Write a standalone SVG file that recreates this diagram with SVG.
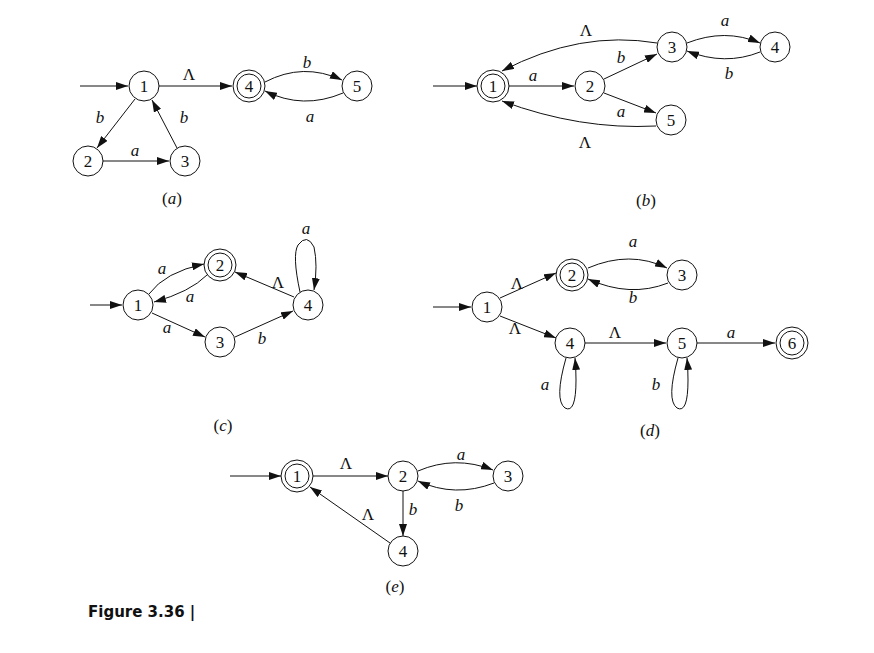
<svg xmlns="http://www.w3.org/2000/svg" width="874" height="653" viewBox="0 0 874 653">
<defs>
<marker id="ar" viewBox="0 0 12 8" refX="12" refY="4" markerWidth="12" markerHeight="8" markerUnits="userSpaceOnUse" orient="auto"><path d="M0,0 L12,4 L0,8 Z" fill="#111"/></marker>
</defs>
<style>
.n circle{fill:#fff;stroke:#111;stroke-width:1}
.n text,.t{font-family:"Liberation Serif",serif;font-size:17px;fill:#111;text-anchor:middle}
.l{font-family:"Liberation Serif",serif;font-size:17px;font-style:italic;fill:#111;text-anchor:middle}
.e path{fill:none;stroke:#111;stroke-width:1;marker-end:url(#ar)}
</style>
<rect width="874" height="653" fill="#fff"/>
<!-- (a) -->
<g class="e">
<path d="M80,86 H128"/><path d="M159,86 H232"/><path d="M265,82 Q303,62 342,80"/><path d="M343,93 Q303,110 265,91"/>
<path d="M135,99 L97,148"/><path d="M103,161 H169"/><path d="M177,148 L152,100"/>
</g>
<g class="n" id="a1"><circle cx="144" cy="86" r="15"/><text x="144" y="92">1</text></g>
<g class="n" id="a2"><circle cx="88" cy="161" r="15"/><text x="88" y="167">2</text></g>
<g class="n" id="a3"><circle cx="185" cy="161" r="15"/><text x="185" y="167">3</text></g>
<g class="n" id="a4"><circle cx="249" cy="86" r="16"/><circle cx="249" cy="86" r="12"/><text x="249" y="92">4</text></g>
<g class="n" id="a5"><circle cx="357" cy="86" r="15"/><text x="357" y="92">5</text></g>
<text class="t" x="189" y="80">Λ</text><text class="l" x="307" y="68">b</text><text class="l" x="310" y="122">a</text>
<text class="l" x="100" y="123">b</text><text class="l" x="184" y="123">b</text><text class="l" x="135" y="156">a</text>
<text class="t" x="172" y="204">(<tspan font-style="italic">a</tspan>)</text>
<!-- (b) -->
<g class="e">
<path d="M433,86 H477"/><path d="M509,86 H574"/><path d="M604,79 L657,54"/><path d="M604,93 L656,113"/>
<path d="M657,43 Q580,30 502,71"/><path d="M656,126 Q580,130 502,101"/>
<path d="M687,43 Q725,28 760,43"/><path d="M760,52 Q725,66 687,51"/>
</g>
<g class="n" id="b1"><circle cx="493" cy="86" r="16"/><circle cx="493" cy="86" r="12"/><text x="493" y="92">1</text></g>
<g class="n" id="b2"><circle cx="590" cy="86" r="15"/><text x="590" y="92">2</text></g>
<g class="n" id="b3"><circle cx="672" cy="47" r="15"/><text x="672" y="53">3</text></g>
<g class="n" id="b4"><circle cx="775" cy="47" r="15"/><text x="775" y="53">4</text></g>
<g class="n" id="b5"><circle cx="671" cy="120" r="15"/><text x="671" y="126">5</text></g>
<text class="t" x="586" y="36">Λ</text><text class="l" x="533" y="81">a</text><text class="l" x="621" y="63">b</text><text class="l" x="621" y="117">a</text>
<text class="t" x="585" y="148">Λ</text><text class="l" x="725" y="26">a</text><text class="l" x="729" y="79">b</text>
<text class="t" x="646" y="206">(<tspan font-style="italic">b</tspan>)</text>
<!-- (c) -->
<g class="e">
<path d="M90,305 H122"/><path d="M149,294 Q165,272 204,264"/><path d="M207,275 Q190,292 154,302"/>
<path d="M152,313 L205,337"/><path d="M235,337 L293,311"/><path d="M294,297 L235,272"/>
<path d="M300,292 Q292,255 298,245 Q307,233 314,247 Q318,265 314,290"/>
</g>
<g class="n" id="c1"><circle cx="138" cy="305" r="15"/><text x="138" y="311">1</text></g>
<g class="n" id="c2"><circle cx="220" cy="265" r="16"/><circle cx="220" cy="265" r="12"/><text x="220" y="271">2</text></g>
<g class="n" id="c3"><circle cx="220" cy="342" r="15"/><text x="220" y="348">3</text></g>
<g class="n" id="c4"><circle cx="308" cy="305" r="15"/><text x="308" y="311">4</text></g>
<text class="l" x="162" y="274">a</text><text class="l" x="190" y="302">a</text><text class="l" x="167" y="333">a</text><text class="l" x="262" y="344">b</text>
<text class="t" x="278" y="288">Λ</text><text class="l" x="306" y="234">a</text>
<text class="t" x="223" y="431">(<tspan font-style="italic">c</tspan>)</text>
<!-- (d) -->
<g class="e">
<path d="M433,307 H471"/><path d="M500,298 L556,273"/><path d="M500,316 L556,338"/>
<path d="M588,268 Q630,250 667,268"/><path d="M668,283 Q630,298 588,279"/>
<path d="M585,343 H666"/><path d="M697,343 H775"/>
<path d="M566,358 Q554,400 565,408 Q576,414 576,380 Q576,368 575,358"/>
<path d="M678,358 Q666,400 677,408 Q688,414 688,380 Q688,368 687,358"/>
</g>
<g class="n" id="d1"><circle cx="487" cy="307" r="15"/><text x="487" y="313">1</text></g>
<g class="n" id="d2"><circle cx="572" cy="275" r="16"/><circle cx="572" cy="275" r="12"/><text x="572" y="281">2</text></g>
<g class="n" id="d3"><circle cx="682" cy="275" r="15"/><text x="682" y="281">3</text></g>
<g class="n" id="d4"><circle cx="570" cy="343" r="15"/><text x="570" y="349">4</text></g>
<g class="n" id="d5"><circle cx="682" cy="343" r="15"/><text x="682" y="349">5</text></g>
<g class="n" id="d6"><circle cx="792" cy="343" r="16"/><circle cx="792" cy="343" r="12"/><text x="792" y="349">6</text></g>
<text class="t" x="517" y="289">Λ</text><text class="t" x="515" y="334">Λ</text><text class="l" x="633" y="247">a</text><text class="l" x="633" y="303">b</text>
<text class="t" x="615" y="338">Λ</text><text class="l" x="731" y="338">a</text><text class="l" x="545" y="390">a</text><text class="l" x="656" y="390">b</text>
<text class="t" x="650" y="436">(<tspan font-style="italic">d</tspan>)</text>
<!-- (e) -->
<g class="e">
<path d="M230,476 H281"/><path d="M313,476 H388"/><path d="M418,471 Q455,455 493,470"/><path d="M494,483 Q455,498 418,481"/>
<path d="M403,491 V536"/><path d="M390,543 L310,487"/>
</g>
<g class="n" id="e1"><circle cx="297" cy="476" r="16"/><circle cx="297" cy="476" r="12"/><text x="297" y="482">1</text></g>
<g class="n" id="e2"><circle cx="403" cy="476" r="15"/><text x="403" y="482">2</text></g>
<g class="n" id="e3"><circle cx="508" cy="476" r="15"/><text x="508" y="482">3</text></g>
<g class="n" id="e4"><circle cx="403" cy="551" r="15"/><text x="403" y="557">4</text></g>
<text class="t" x="346" y="469">Λ</text><text class="l" x="461" y="460">a</text><text class="l" x="459" y="511">b</text>
<text class="l" x="413" y="515">b</text><text class="t" x="368" y="520">Λ</text>
<text class="t" x="395" y="592">(<tspan font-style="italic">e</tspan>)</text>
<text x="88" y="617" font-family="'DejaVu Sans',sans-serif" font-weight="bold" font-size="15" fill="#111">Figure 3.36 |</text>
</svg>
